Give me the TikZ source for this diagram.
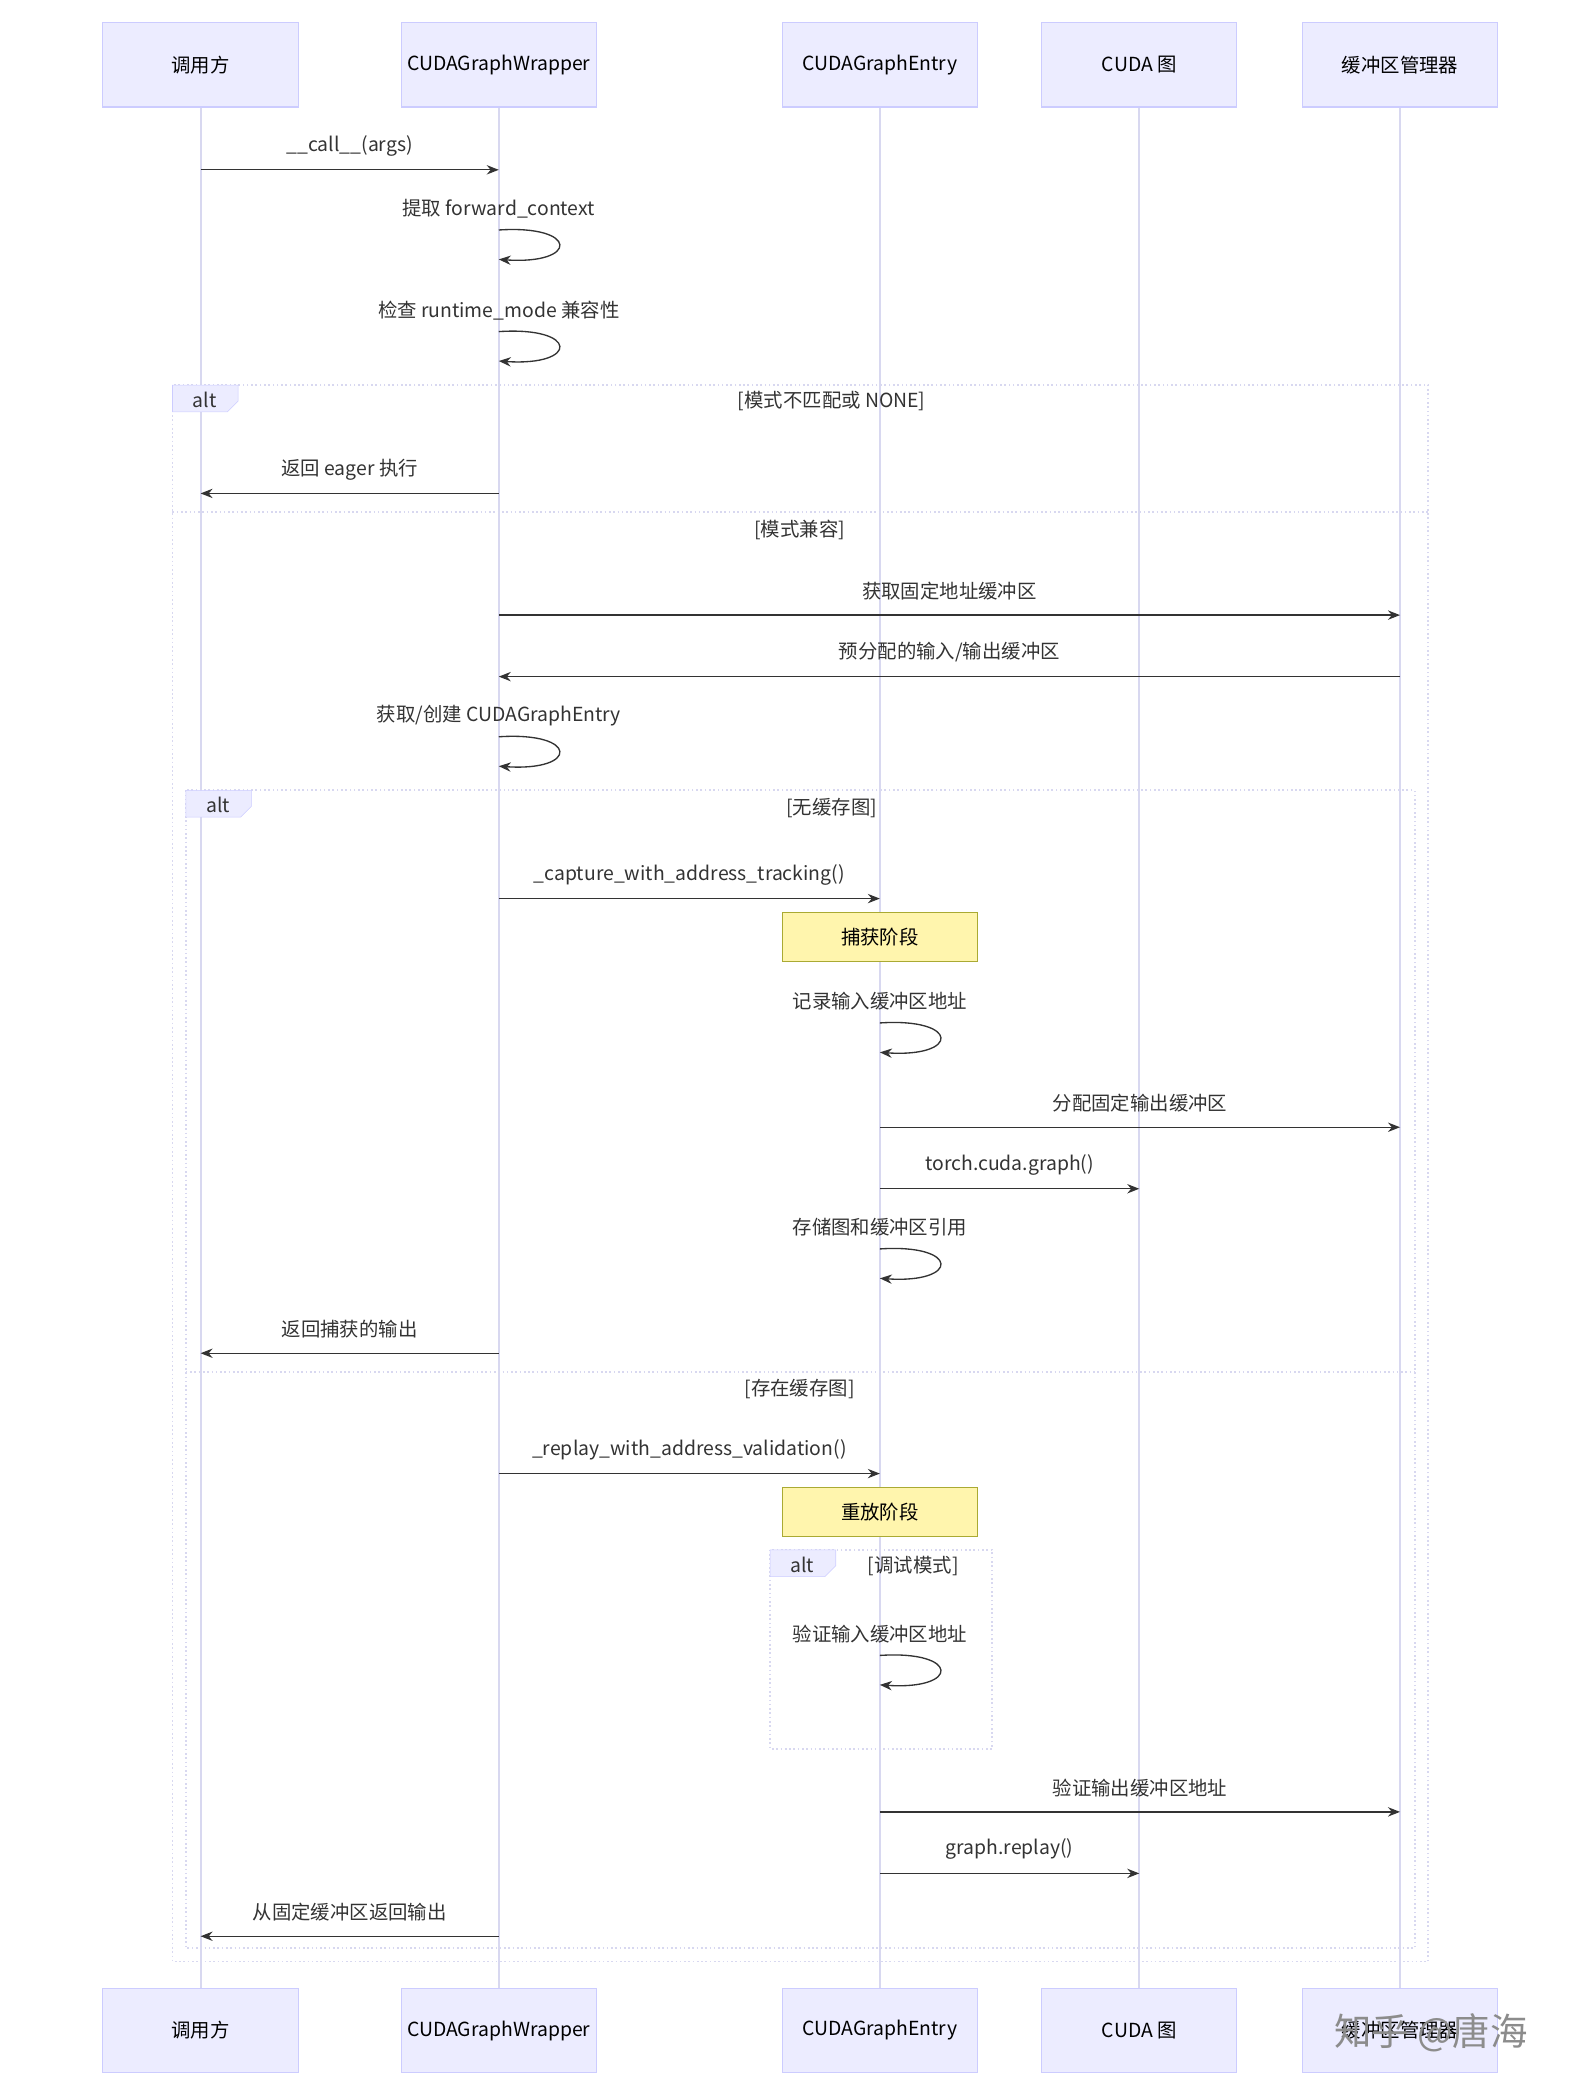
\documentclass[tikz,border=0pt]{standalone}
\usepackage{fontspec}
\setmainfont{Noto Sans CJK SC}
\usetikzlibrary{arrows.meta}
\definecolor{pfill}{HTML}{ECECFF}
\definecolor{pline}{HTML}{CCCCFF}
\definecolor{lline}{HTML}{D8D8F0}
\definecolor{nfill}{HTML}{FFF5AD}
\definecolor{nline}{HTML}{AAAA33}
\definecolor{msg}{HTML}{333333}
\begin{document}
\begin{tikzpicture}[x=1pt,y=-1pt,font=\fontsize{14.5}{16}\selectfont,
 part/.style={draw=pline,fill=pfill,minimum width=146,minimum height=63,inner sep=0,line width=0.8},
 life/.style={draw=lline,line width=1.6},
 msgline/.style={draw=msg,line width=1,-{Stealth[length=9,width=7]}},
 lbl/.style={text=msg,inner sep=0},
 frame/.style={draw=lline,dotted,line width=1.2},
 notebox/.style={draw=nline,fill=nfill,minimum width=146,minimum height=37,inner sep=0}]
\useasboundingbox (0,0) rectangle (1190,1563);
\foreach \n/\x/\t in {a/150/调用方,b/373/CUDAGraphWrapper,c/658/CUDAGraphEntry,d/852/CUDA 图,e/1047/缓冲区管理器}{
 \draw[life] (\x,80) -- (\x,1487);
 \node[part] (\n top) at (\x,48.5) {\t};
 \node[part] (\n bot) at (\x,1518.5) {\t};
}
% frames
\draw[frame] (129,288) rectangle (1068,1467);
\draw[frame] (129,383) -- (1068,383);
\draw[frame] (139,591) rectangle (1058,1457);
\draw[frame] (139,1026) -- (1058,1026);
\draw[frame] (576,1159) rectangle (742,1308);
\foreach \x/\y in {129/288,139/591,576/1159}{
 \draw[draw=pline,fill=pfill] (\x,\y) -- ++(49,0) -- ++(0,12) -- ++(-8,8) -- ++(-41,0) -- cycle;
 \node[lbl] at (\x+24,\y+11) {alt};
}
\node[lbl] (g1) at (622,300) {[模式不匹配或 NONE]};
\node[lbl] (g2) at (598,396) {[模式兼容]};
\node[lbl] (g3) at (622,604) {[无缓存图]};
\node[lbl] (g4) at (598,1039) {[存在缓存图]};
\node[lbl] (g5) at (683,1171) {[调试模式]};
% messages
\newcommand\mymsg[4]{\draw[msgline] (#1,#3) -- (#2,#3); \node[lbl] at ({(#1+#2)/2},#3-18) {#4};}
\newcommand\myself[3]{\node[lbl] at (#1,#2-16) {#3}; \draw[msgline] (#1,#2) .. controls (#1+60,#2-4) and (#1+60,#2+26) .. (#1,#2+22);}
\mymsg{150}{373}{127}{\_\_call\_\_(args)}
\myself{373}{172}{提取 forward\_context}
\myself{373}{248}{检查 runtime\_mode 兼容性}
\mymsg{373}{150}{369}{返回 eager 执行}
\mymsg{373}{1047}{460}{获取固定地址缓冲区}
\mymsg{1047}{373}{506}{预分配的输入/输出缓冲区}
\myself{373}{551}{获取/创建 CUDAGraphEntry}
\mymsg{373}{658}{672}{\_capture\_with\_address\_tracking()}
\node[notebox] (n1) at (658,700.5) {捕获阶段};
\myself{658}{765}{记录输入缓冲区地址}
\mymsg{658}{1047}{843}{分配固定输出缓冲区}
\mymsg{658}{852}{889}{torch.cuda.graph()}
\myself{658}{934}{存储图和缓冲区引用}
\mymsg{373}{150}{1012}{返回捕获的输出}
\mymsg{373}{658}{1102}{\_replay\_with\_address\_validation()}
\node[notebox] (n2) at (658,1130.5) {重放阶段};
\myself{658}{1238}{验证输入缓冲区地址}
\mymsg{658}{1047}{1355}{验证输出缓冲区地址}
\mymsg{658}{852}{1401}{graph.replay()}
\mymsg{373}{150}{1448}{从固定缓冲区返回输出}
\node[text=black!45,font=\fontsize{28}{30}\selectfont] (wm) at (1070,1520) {知乎 @唐海};
\end{tikzpicture}
\end{document}
